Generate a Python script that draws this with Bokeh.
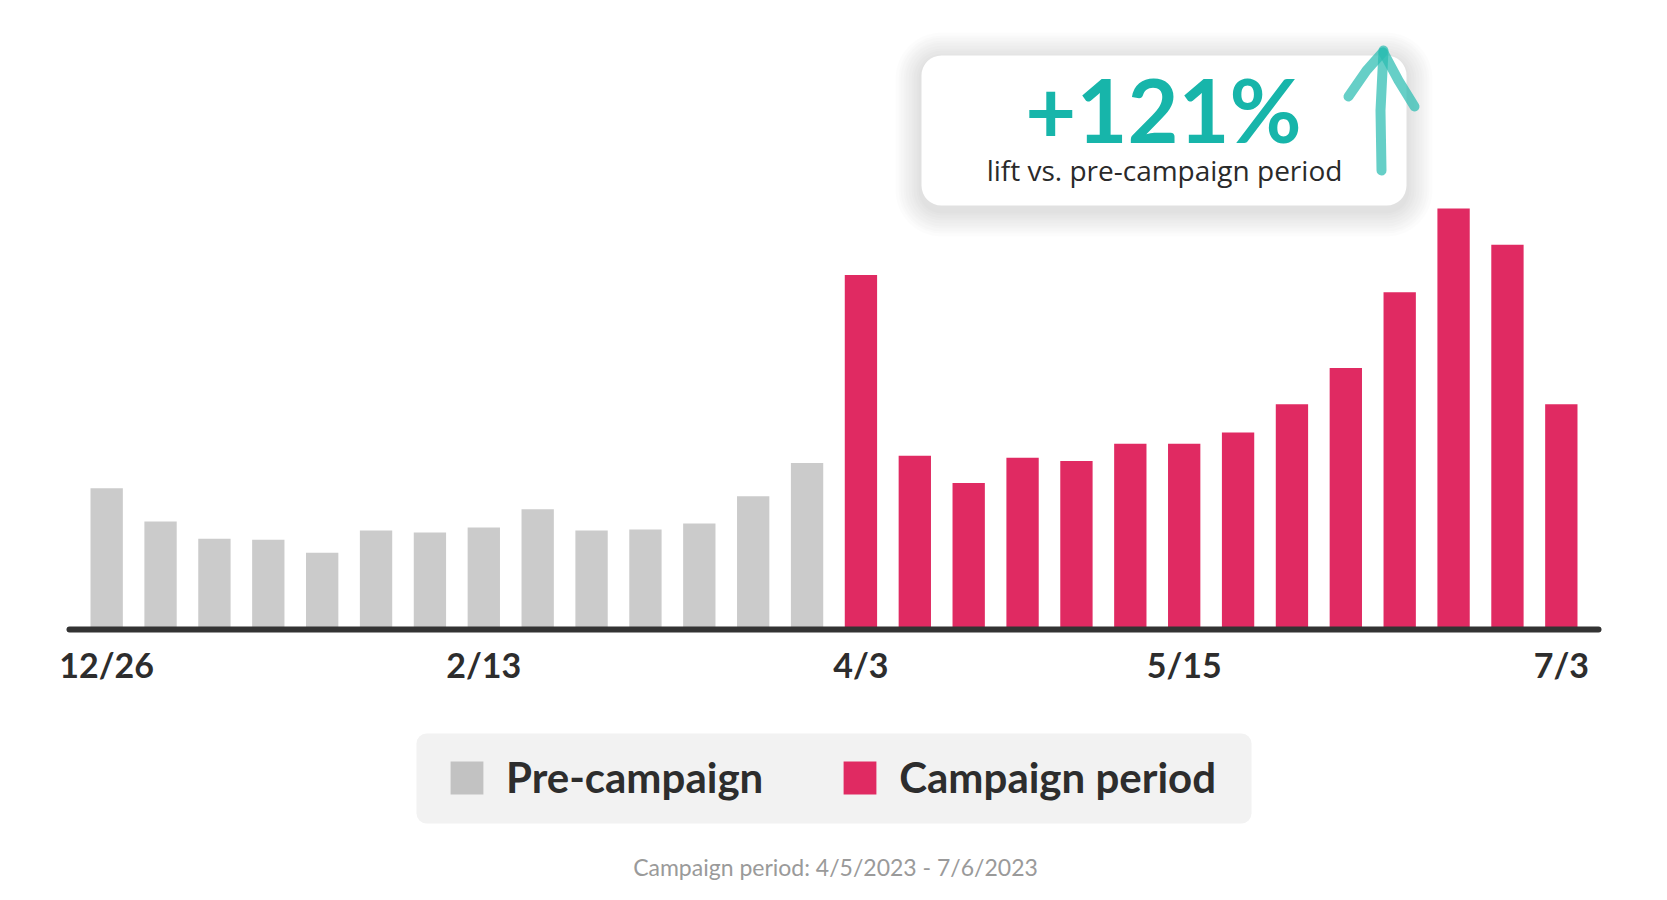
from bokeh.plotting import figure
from bokeh.layouts import column
from bokeh.models import (Range1d, LinearAxis, FixedTicker, Legend, LegendItem,
                          BoxAnnotation, Label, ColumnDataSource)
from bokeh.embed import file_html
from bokeh.resources import INLINE

# ---------------- data ----------------
weeks = ["12/26", "1/2", "1/9", "1/16", "1/23", "1/30", "2/6", "2/13", "2/20", "2/27",
         "3/6", "3/13", "3/20", "3/27", "4/3", "4/10", "4/17", "4/24", "5/1", "5/8",
         "5/15", "5/22", "5/29", "6/5", "6/12", "6/19", "6/26", "7/3"]
pre_values = [140, 107, 90, 89, 76, 98, 96, 101, 119, 98, 99, 105, 132, 165]
campaign_values = [351, 172, 145, 170, 167, 184, 184, 195, 223, 259, 334, 417, 381, 223]
tick_weeks = ["12/26", "2/13", "4/3", "5/15", "7/3"]
series_names = ["Pre-campaign", "Campaign period"]
lift_text = "+121%"
lift_caption = "lift vs. pre-campaign period"
footnote = "Campaign period: 4/5/2023 - 7/6/2023"

# ---------------- styles ----------------
GRAY = "#cbcbcb"
RED = "#e02a62"
TEAL = "#17b5aa"
DARK = "#2d2d2d"
FONT = "Lato"

W = 1667
H1, H2 = 700, 200
ML, MR = 69, 69
FB = 629                      # frame bottom of the chart (page px)
FW, FH = W - ML - MR, FB


def X(page_x):
    return page_x - ML


def Y(page_y):
    return FB - page_y


def BL(page_y, size):
    # alphabetic-baseline correction observed for text annotations
    return Y(page_y) + 0.39 * size


# ================= chart =================
p = figure(width=W, height=H1,
           x_range=Range1d(-0.69, 27.69), y_range=Range1d(0, 623),
           output_backend="svg", toolbar_location=None,
           x_axis_location=None, y_axis_location=None,
           min_border_left=ML, min_border_right=MR, min_border_top=0, min_border_bottom=H1 - FB,
           outline_line_color=None, background_fill_color="white", border_fill_color="white")
p.grid.visible = False
p.extra_x_ranges = {"px": Range1d(0, FW)}
p.extra_y_ranges = {"py": Range1d(0, FH)}

idx = list(range(len(weeks)))
n_pre = len(pre_values)
src_pre = ColumnDataSource(dict(x=idx[:n_pre], top=pre_values, week=weeks[:n_pre]))
src_cam = ColumnDataSource(dict(x=idx[n_pre:], top=campaign_values, week=weeks[n_pre:]))
p.vbar(x="x", top="top", width=0.6, source=src_pre, fill_color=GRAY, line_color=None)
p.vbar(x="x", top="top", width=0.6, source=src_cam, fill_color=RED, line_color=None)

tick_pos = [weeks.index(t) for t in tick_weeks]
xaxis = LinearAxis(ticker=FixedTicker(ticks=tick_pos, minor_ticks=[]),
                   major_label_overrides={i: weeks[i] for i in tick_pos})
xaxis.axis_line_width = 6
xaxis.axis_line_color = "#333333"
xaxis.axis_line_cap = "round"
xaxis.major_tick_line_color = None
xaxis.minor_tick_line_color = None
xaxis.major_label_text_font = FONT
xaxis.major_label_text_font_style = "bold"
xaxis.major_label_text_font_size = "34px"
xaxis.major_label_text_color = DARK
xaxis.major_label_standoff = 8
p.add_layout(xaxis, "below")

# callout box with shadow
bx_l, bx_r, bx_t, bx_b = X(921), X(1406), Y(55), Y(205)
for i in range(10, 0, -1):
    d = int(round(i * 2.6))
    p.add_layout(BoxAnnotation(left=bx_l - d, right=bx_r + d, top=bx_t + d - 3, bottom=bx_b - d - 5,
                               x_range_name="px", y_range_name="py",
                               fill_color="black", fill_alpha=0.013, line_color=None,
                               border_radius=20 + d, level="underlay"))
p.add_layout(BoxAnnotation(left=bx_l, right=bx_r, top=bx_t, bottom=bx_b,
                           x_range_name="px", y_range_name="py",
                           fill_color="white", fill_alpha=1.0, line_color=None,
                           border_radius=20, level="underlay"))

p.add_layout(Label(x=X(1163), y=BL(143, 88), x_range_name="px", y_range_name="py",
                   text=lift_text, text_align="center", text_baseline="alphabetic",
                   text_font=FONT, text_font_style="bold", text_font_size="88px",
                   text_color=TEAL))
p.add_layout(Label(x=X(1164), y=BL(180, 28), x_range_name="px", y_range_name="py",
                   text=lift_caption, text_align="center", text_baseline="alphabetic",
                   text_font="Open Sans", text_font_style="normal", text_font_size="28px",
                   text_color="#2a2a2a"))

arrow_xs = [[X(1381), X(1380), X(1383)], [X(1348), X(1366), X(1382)], [X(1414), X(1398), X(1383)]]
arrow_ys = [[Y(170), Y(110), Y(50)], [Y(96), Y(70), Y(52)], [Y(106), Y(80), Y(52)]]
p.multi_line(xs=arrow_xs, ys=arrow_ys, x_range_name="px", y_range_name="py",
             line_color="#2bbcb1", line_alpha=0.72, line_width=10, line_cap="round",
             line_join="round")

# ================= legend + footnote panel =================
# (its frame is aligned with the chart frame: page x 69..1598, page y 700..900)
q = figure(width=W, height=H2, x_range=Range1d(0, FW), y_range=Range1d(0, H2),
           output_backend="svg", toolbar_location=None,
           x_axis_location=None, y_axis_location=None,
           min_border_left=ML, min_border_right=MR, min_border_top=0, min_border_bottom=0,
           outline_line_color=None, background_fill_color="white", border_fill_color="white")
q.grid.visible = False


def Y2(page_y):
    return (H1 + H2) - page_y


# legend background
q.add_layout(BoxAnnotation(left=X(416), right=X(1251), top=Y2(733), bottom=Y2(823),
                           fill_color="#f2f2f2", fill_alpha=1.0, line_color=None,
                           border_radius=10, level="underlay"))

# legend entries refer to (hidden) copies of the two series
lg_pre = q.vbar(x="x", top="top", width=0.6, source=src_pre, fill_color="#c2c2c2",
                line_color=None, visible=False)
lg_cam = q.vbar(x="x", top="top", width=0.6, source=src_cam, fill_color=RED,
                line_color=None, visible=False)

legend = Legend(items=[LegendItem(label=series_names[0], renderers=[lg_pre]),
                       LegendItem(label=series_names[1], renderers=[lg_cam])],
                orientation="horizontal", location=(X(446), Y2(802)),
                background_fill_alpha=0.0, border_line_color=None,
                inactive_fill_alpha=0.0,
                label_text_font=FONT, label_text_font_style="bold",
                label_text_font_size="42px", label_text_color=DARK,
                glyph_width=41, glyph_height=41, label_standoff=19,
                spacing=76, padding=0, margin=0)
q.add_layout(legend, "center")

q.add_layout(Label(x=X(835), y=Y2(875) + 0.39 * 23,
                   text=footnote, text_align="center", text_baseline="alphabetic",
                   text_font=FONT, text_font_style="normal", text_font_size="23px",
                   text_color="#9a9a9a"))

layout = column(p, q, spacing=0)
open("out.html", "w").write(file_html(layout, INLINE))
